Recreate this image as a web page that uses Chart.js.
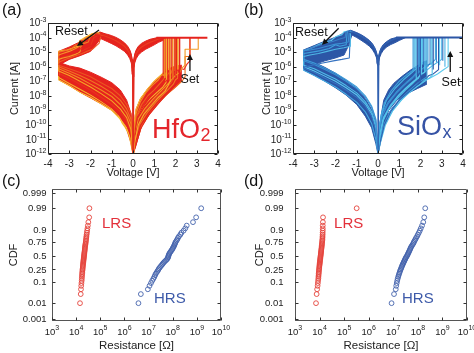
<!DOCTYPE html>
<html><head><meta charset="utf-8">
<script src="https://cdn.jsdelivr.net/npm/chart.js@4/dist/chart.umd.min.js"></script>
<style>
html,body{margin:0;padding:0;background:#fff;}
body{width:474px;height:353px;position:relative;overflow:hidden;}
canvas{position:absolute;}
</style></head><body>
<canvas id="ca" width="237" height="182" style="left:0;top:0;width:237px;height:182px"></canvas>
<canvas id="cb" width="237" height="182" style="left:237px;top:0;width:237px;height:182px"></canvas>
<canvas id="cc" width="237" height="185" style="left:0;top:168px;width:237px;height:185px"></canvas>
<canvas id="cd" width="237" height="185" style="left:237px;top:168px;width:237px;height:185px"></canvas>
<script>
// ===================== DATA =====================
// I-V panels: each curve is a list of [voltage (V), log10 |current (A)|]
const ivVoltTicks = [-4,-3,-2,-1,0,1,2,3,4];
const ivCurrentTickExps = [-12,-11,-10,-9,-8,-7,-6,-5,-4,-3];

// (a) HfO2 — dense bundles: [upper edge, lower edge]
const hfBandHrsNeg = [
 [[-3.5,-5.7],[-3.0,-5.95],[-2.5,-6.1],[-2.0,-6.38],[-1.5,-6.72],[-1.0,-7.1],[-0.6,-7.6],[-0.3,-8.3],[-0.1,-9.2],[-0.02,-10.2],[0,-12]],
 [[-3.5,-6.9],[-3.0,-7.3],[-2.5,-7.75],[-2.0,-8.15],[-1.5,-8.55],[-1.0,-9.0],[-0.6,-9.5],[-0.3,-10.3],[-0.1,-11.2],[0,-12]]
];
const hfBandReset = [
 [[-3.5,-4.95],[-3.0,-4.65],[-2.6,-4.37],[-2.2,-4.0],[-1.8,-3.72],[-1.55,-3.62],[-1.3,-3.75]],
 [[-3.5,-5.9],[-3.0,-5.5],[-2.5,-5.25],[-2.0,-4.95],[-1.7,-4.4],[-1.5,-3.95],[-1.3,-3.8]]
];
const hfBandHrsPos = [
 [[0,-12],[0.04,-10],[0.15,-8.9],[0.35,-8.2],[0.7,-7.5],[1.0,-7.0],[1.3,-6.6],[1.6,-6.2],[2.0,-5.95],[2.3,-5.9]],
 [[0,-12],[0.15,-11.3],[0.4,-10.1],[0.8,-9.2],[1.2,-8.5],[1.6,-7.9],[2.0,-7.4],[2.3,-7.0]]
];
const hfBandLrs = [
 [[-1.6,-3.68],[-1.4,-3.72],[-1.2,-3.78],[-1.0,-3.87],[-0.8,-3.99],[-0.6,-4.15],[-0.4,-4.36],[-0.25,-4.6],[-0.15,-4.85],[-0.08,-5.15],[-0.04,-5.5],[-0.015,-6.0],[0.015,-6.0],[0.04,-5.5],[0.08,-5.15],[0.15,-4.85],[0.25,-4.6],[0.4,-4.4],[0.6,-4.24],[0.8,-4.12],[1.1,-4.02],[1.6,-4.02]],
 [[-1.6,-4.02],[-1.4,-4.15],[-1.2,-4.28],[-1.0,-4.42],[-0.8,-4.57],[-0.6,-4.75],[-0.4,-4.95],[-0.25,-5.2],[-0.15,-5.45],[-0.08,-5.75],[-0.04,-6.1],[-0.015,-6.7],[0.015,-6.7],[0.04,-6.1],[0.08,-5.75],[0.15,-5.45],[0.25,-5.2],[0.4,-5.0],[0.6,-4.8],[0.8,-4.65],[1.0,-4.5],[1.2,-4.33],[1.4,-4.2],[1.6,-4.02]]
];
// (a) individual sweeps
const hfHrsPos = [
 [[0,-12],[0.05,-10.2],[0.15,-9.2],[0.35,-8.4],[0.6,-7.8],[0.9,-7.3],[1.2,-6.9],[1.35,-6.55],[1.45,-6.6],[1.45,-4.02]],
 [[0,-12],[0.06,-10.8],[0.2,-9.5],[0.45,-8.8],[0.8,-8.1],[1.1,-7.6],[1.4,-7.2],[1.5,-6.8],[1.6,-6.9],[1.6,-4.02]],
 [[0,-12],[0.08,-11.2],[0.25,-10],[0.5,-9.3],[0.9,-8.6],[1.2,-8.1],[1.5,-7.7],[1.65,-7.3],[1.75,-7.0],[1.75,-4.02]],
 [[0,-12],[0.05,-10.5],[0.2,-9.3],[0.4,-8.6],[0.7,-8.0],[1.0,-7.6],[1.3,-7.1],[1.6,-6.6],[1.7,-6.4],[1.78,-6.5],[1.85,-6.2],[1.85,-4.02]],
 [[0,-12],[0.1,-11],[0.3,-9.8],[0.6,-9.0],[1.0,-8.3],[1.3,-7.9],[1.6,-7.4],[1.8,-7.1],[1.9,-6.8],[2.0,-6.7],[2.0,-4.02]],
 [[0,-12],[0.04,-10],[0.15,-8.9],[0.35,-8.2],[0.7,-7.5],[1.0,-7.0],[1.3,-6.6],[1.5,-6.3],[1.6,-6.1],[1.68,-6.2],[1.68,-4.02]],
 [[0,-12],[0.12,-11.5],[0.35,-10.3],[0.7,-9.4],[1.1,-8.7],[1.5,-8.0],[1.8,-7.6],[2.0,-7.2],[2.1,-7.0],[2.2,-6.6],[2.2,-4.02]],
 [[0,-12],[0.07,-10.6],[0.25,-9.6],[0.55,-8.9],[0.9,-8.3],[1.3,-7.7],[1.7,-7.1],[2.0,-6.6],[2.2,-6.4],[2.3,-6.1],[2.45,-5.9],[2.45,-4.8],[3.07,-4.8],[3.07,-4.02]],
 [[0,-12],[0.06,-10.4],[0.2,-9.2],[0.5,-8.5],[0.9,-7.9],[1.3,-7.3],[1.7,-6.8],[2.0,-6.4],[2.2,-6.1],[2.4,-6.2],[2.55,-5.8],[2.68,-5.6],[2.68,-4.02]],
 [[0,-12],[0.1,-11],[0.3,-10.0],[0.7,-9.1],[1.1,-8.4],[1.5,-7.8],[1.9,-7.2],[2.0,-6.9],[2.1,-6.8],[2.1,-4.02]],
 [[0,-12],[0.05,-10.3],[0.2,-9.4],[0.5,-8.7],[0.8,-8.2],[1.1,-7.8],[1.4,-7.4],[1.55,-7.1],[1.55,-4.02]],
 [[0,-12],[0.08,-10.9],[0.3,-9.7],[0.6,-8.9],[1.0,-8.2],[1.4,-7.6],[1.7,-7.2],[1.85,-6.9],[1.95,-6.5],[2.05,-6.4],[2.05,-4.02]],
 [[0,-12],[0.15,-11.3],[0.4,-10.1],[0.8,-9.2],[1.2,-8.5],[1.6,-7.9],[2.0,-7.4],[2.3,-7.0],[2.45,-6.7],[2.45,-5.3],[2.68,-5.3],[2.68,-4.02]]
];
const hfSetJumps = [
 [[1.42,-6.5],[1.42,-4.02]],[[1.48,-6.8],[1.48,-4.02]],[[1.52,-6.4],[1.52,-4.02]],[[1.58,-6.9],[1.58,-4.02]],
 [[1.63,-6.3],[1.63,-4.02]],[[1.72,-6.6],[1.72,-4.02]],[[1.8,-6.2],[1.8,-4.02]],[[1.88,-6.9],[1.88,-4.02]],
 [[1.95,-6.3],[1.95,-4.02]],[[2.12,-6.2],[2.12,-4.02]],[[2.18,-6.6],[2.18,-4.02]]
];
const hfHrsNeg = [
 [[-3.5,-5.0],[-3.5,-6.0],[-3.0,-6.3],[-2.5,-6.6],[-2.0,-6.95],[-1.5,-7.35],[-1.0,-7.8],[-0.6,-8.3],[-0.3,-8.9],[-0.1,-9.6],[-0.03,-10.5],[0,-12]],
 [[-3.5,-5.35],[-3.5,-6.3],[-3.0,-6.6],[-2.5,-7.0],[-2.0,-7.4],[-1.5,-7.85],[-1.0,-8.35],[-0.6,-8.9],[-0.3,-9.5],[-0.1,-10.3],[0,-12]],
 [[-3.5,-5.5],[-3.5,-6.6],[-3.0,-7.0],[-2.5,-7.4],[-2.0,-7.85],[-1.5,-8.3],[-1.0,-8.8],[-0.6,-9.4],[-0.3,-10.0],[-0.1,-10.8],[0,-12]],
 [[-3.5,-5.7],[-3.5,-5.9],[-3.0,-6.15],[-2.5,-6.4],[-2.0,-6.7],[-1.5,-7.1],[-1.0,-7.5],[-0.6,-8.0],[-0.3,-8.6],[-0.1,-9.2],[-0.02,-10],[0,-12]],
 [[-3.5,-4.95],[-3.5,-6.9],[-3.0,-7.3],[-2.5,-7.75],[-2.0,-8.1],[-1.5,-8.55],[-1.0,-9.0],[-0.6,-9.6],[-0.3,-10.2],[-0.1,-11],[0,-12]],
 [[-3.5,-5.2],[-3.5,-6.15],[-3.0,-6.45],[-2.5,-6.8],[-2.0,-7.2],[-1.5,-7.6],[-1.0,-8.05],[-0.6,-8.6],[-0.3,-9.2],[-0.1,-9.9],[0,-12]],
 [[-3.5,-5.45],[-3.5,-6.45],[-3.0,-6.8],[-2.5,-7.2],[-2.0,-7.6],[-1.5,-8.1],[-1.0,-8.6],[-0.6,-9.1],[-0.3,-9.7],[-0.1,-10.5],[0,-12]],
 [[-3.5,-5.9],[-3.5,-6.75],[-3.0,-7.15],[-2.5,-7.55],[-2.0,-7.95],[-1.5,-8.4],[-1.0,-8.9],[-0.7,-9.3],[-0.5,-9.9],[-0.4,-10.1],[-0.2,-10.6],[0,-12]]
];
const hfReset = [
 [[-1.55,-3.7],[-1.8,-3.75],[-2.0,-3.9],[-2.1,-4.3],[-2.3,-4.4],[-2.5,-4.6],[-2.7,-4.5],[-2.9,-4.8],[-3.2,-4.9],[-3.5,-5.0]],
 [[-1.4,-3.75],[-1.6,-3.8],[-1.75,-4.2],[-1.9,-4.5],[-2.2,-4.7],[-2.4,-4.65],[-2.6,-5.0],[-2.9,-5.1],[-3.2,-5.2],[-3.5,-5.35]],
 [[-1.5,-3.72],[-1.7,-3.72],[-1.9,-3.85],[-2.2,-4.1],[-2.4,-4.35],[-2.5,-5.0],[-2.7,-5.15],[-3.0,-5.3],[-3.3,-5.4],[-3.5,-5.5]],
 [[-1.3,-3.8],[-1.5,-3.85],[-1.6,-4.4],[-1.9,-4.8],[-2.1,-4.9],[-2.4,-5.1],[-2.8,-5.3],[-3.1,-5.45],[-3.5,-5.7]],
 [[-1.6,-3.65],[-1.9,-3.72],[-2.2,-3.95],[-2.5,-4.2],[-2.6,-4.6],[-2.8,-4.7],[-3.1,-4.85],[-3.4,-4.9],[-3.5,-4.95]],
 [[-1.45,-3.75],[-1.7,-3.9],[-1.85,-4.0],[-2.0,-4.6],[-2.3,-4.85],[-2.6,-5.05],[-2.9,-5.2],[-3.2,-5.3],[-3.5,-5.45]],
 [[-1.7,-3.68],[-2.0,-3.8],[-2.3,-4.05],[-2.4,-4.5],[-2.7,-4.75],[-3.0,-4.95],[-3.3,-5.1],[-3.5,-5.2]],
 [[-1.35,-3.78],[-1.55,-4.1],[-1.8,-4.55],[-2.1,-4.95],[-2.5,-5.2],[-2.9,-5.4],[-3.2,-5.6],[-3.5,-5.85]]
];
const hfLrs = [
 [[1.2,-4.02],[1.0,-4.1],[0.8,-4.2],[0.6,-4.33],[0.4,-4.5],[0.25,-4.7],[0.15,-4.95],[0.08,-5.25],[0.04,-5.6],[0.015,-6.1],[0,-12],[-0.015,-6.1],[-0.04,-5.6],[-0.08,-5.25],[-0.15,-4.95],[-0.25,-4.7],[-0.4,-4.45],[-0.6,-4.25],[-0.8,-4.08],[-1.0,-3.95],[-1.2,-3.85],[-1.4,-3.78],[-1.55,-3.72]],
 [[1.35,-4.02],[1.2,-4.1],[1.0,-4.22],[0.8,-4.33],[0.6,-4.47],[0.4,-4.65],[0.25,-4.86],[0.15,-5.1],[0.08,-5.4],[0.04,-5.75],[0.015,-6.3],[-0.015,-6.3],[-0.04,-5.75],[-0.08,-5.4],[-0.15,-5.1],[-0.25,-4.85],[-0.4,-4.6],[-0.6,-4.4],[-0.8,-4.22],[-1.0,-4.08],[-1.2,-3.96],[-1.4,-3.86],[-1.6,-3.78],[-1.75,-3.72]],
 [[1.5,-4.02],[1.3,-4.15],[1.0,-4.35],[0.8,-4.48],[0.6,-4.62],[0.4,-4.8],[0.25,-5.02],[0.15,-5.25],[0.08,-5.55],[0.04,-5.9],[0.015,-6.5],[0,-12],[-0.015,-6.5],[-0.04,-5.9],[-0.08,-5.55],[-0.15,-5.25],[-0.25,-5.0],[-0.4,-4.75],[-0.6,-4.55],[-0.8,-4.37],[-1.0,-4.22],[-1.2,-4.08],[-1.4,-3.96],[-1.6,-3.86],[-1.8,-3.78]]
];
const hfCompliance = [[[1.1,-4.02],[3.5,-4.02]]];

// (b) SiOx — dense bundles: [upper edge, lower edge]
const siBandHrsNeg = [
 [[-3.5,-5.3],[-3.0,-5.7],[-2.5,-6.05],[-2.0,-6.45],[-1.5,-6.95],[-1.0,-7.5],[-0.6,-8.2],[-0.3,-8.95],[-0.1,-9.9],[0,-12]],
 [[-3.5,-6.23],[-3.0,-6.6],[-2.5,-7.0],[-2.0,-7.45],[-1.5,-7.95],[-1.0,-8.6],[-0.6,-9.4],[-0.3,-10.2],[-0.1,-11.3],[0,-12]]
];
const siBandReset = [
 [[-3.5,-4.85],[-3.0,-4.55],[-2.56,-4.28],[-1.93,-3.94],[-1.5,-3.6],[-1.3,-3.5],[-1.2,-3.55]],
 [[-3.5,-6.1],[-3.0,-5.85],[-2.5,-5.6],[-2.0,-5.4],[-1.6,-5.2],[-1.4,-4.6],[-1.2,-3.7]]
];
const siBandHrsPos = [
 [[0,-12],[0.05,-10.2],[0.27,-8.3],[0.5,-7.6],[0.74,-7.15],[1.1,-6.7],[1.53,-6.23],[1.9,-5.9],[2.16,-5.66],[2.3,-5.6]],
 [[0,-12],[0.1,-11.3],[0.27,-10.1],[0.5,-9.0],[0.89,-8.3],[1.3,-7.9],[1.86,-7.5],[2.3,-7.2]]
];
const siBandLrs = [
 [[-1.25,-3.52],[-1.2,-3.55],[-1.0,-3.66],[-0.8,-3.8],[-0.6,-3.98],[-0.4,-4.2],[-0.25,-4.45],[-0.15,-4.7],[-0.08,-4.95],[-0.04,-5.2],[-0.015,-5.6],[0.015,-5.6],[0.04,-5.2],[0.08,-4.95],[0.15,-4.7],[0.25,-4.48],[0.4,-4.28],[0.6,-4.1],[0.85,-4.0],[1.3,-4.0]],
 [[-1.25,-3.8],[-1.0,-4.0],[-0.8,-4.18],[-0.6,-4.38],[-0.4,-4.6],[-0.25,-4.85],[-0.15,-5.1],[-0.08,-5.35],[-0.04,-5.55],[-0.015,-5.9],[0.015,-5.9],[0.04,-5.55],[0.08,-5.35],[0.15,-5.1],[0.25,-4.87],[0.4,-4.65],[0.6,-4.48],[0.8,-4.35],[1.0,-4.2],[1.3,-4.0]]
];
// (b) individual sweeps
const siHrsPos = [
 [[0,-12],[0.05,-10.3],[0.15,-9.3],[0.3,-8.5],[0.6,-7.7],[1.0,-7.0],[1.4,-6.5],[1.7,-6.2],[1.7,-4.0]],
 [[0,-12],[0.08,-10.9],[0.25,-9.7],[0.5,-8.9],[0.9,-8.2],[1.3,-7.6],[1.6,-7.2],[1.8,-6.9],[1.8,-4.0]],
 [[0,-12],[0.06,-10.5],[0.2,-9.4],[0.45,-8.6],[0.8,-7.9],[1.2,-7.3],[1.6,-6.8],[1.75,-6.5],[1.9,-6.4],[1.9,-4.0]],
 [[0,-12],[0.1,-11.2],[0.3,-10.0],[0.6,-9.1],[1.0,-8.3],[1.4,-7.8],[1.8,-7.3],[2.0,-7.0],[2.0,-4.0]],
 [[0,-12],[0.05,-10.2],[0.2,-9.1],[0.4,-8.3],[0.8,-7.5],[1.2,-6.9],[1.6,-6.4],[1.9,-6.0],[2.1,-5.8],[2.1,-4.0]],
 [[0,-12],[0.07,-10.7],[0.25,-9.6],[0.55,-8.8],[0.9,-8.1],[1.3,-7.5],[1.7,-7.0],[1.9,-6.8],[2.0,-6.5],[2.2,-6.4],[2.2,-4.0]],
 [[0,-12],[0.09,-11],[0.3,-9.9],[0.6,-9.0],[1.0,-8.3],[1.5,-7.6],[1.9,-7.1],[2.1,-6.9],[2.3,-6.7],[2.3,-4.0]],
 [[0,-12],[0.06,-10.4],[0.2,-9.3],[0.5,-8.5],[0.9,-7.8],[1.3,-7.2],[1.8,-6.6],[2.0,-6.3],[2.2,-6.1],[2.45,-5.8],[2.45,-4.0]],
 [[0,-12],[0.1,-11.3],[0.35,-10.0],[0.7,-9.0],[1.1,-8.3],[1.6,-7.6],[2.0,-7.2],[2.2,-6.9],[2.4,-6.8],[2.55,-6.6],[2.55,-4.0]],
 [[0,-12],[0.05,-10.3],[0.2,-9.2],[0.5,-8.4],[0.9,-7.7],[1.4,-7.0],[1.9,-6.4],[2.3,-5.9],[2.5,-5.8],[2.7,-5.5],[2.7,-4.0]],
 [[0,-12],[0.08,-10.8],[0.3,-9.7],[0.7,-8.8],[1.2,-8.0],[1.7,-7.4],[2.2,-6.9],[2.4,-6.6],[2.6,-6.5],[2.85,-6.2],[2.85,-4.0]],
 [[0,-12],[0.07,-10.6],[0.25,-9.5],[0.6,-8.6],[1.0,-7.9],[1.5,-7.2],[2.0,-6.6],[2.5,-6.0],[2.8,-5.7],[3.0,-5.5],[3.0,-4.0]],
 [[0,-12],[0.1,-11.2],[0.3,-10.0],[0.7,-9.0],[1.2,-8.1],[1.8,-7.4],[2.3,-6.9],[2.8,-6.5],[3.1,-6.2],[3.3,-6.0],[3.3,-4.0]]
];
const siSetJumps = [
 [[1.65,-6.3],[1.65,-4.0]],[[1.75,-6.1],[1.75,-4.0]],[[1.85,-6.6],[1.85,-4.0]],[[1.95,-6.0],[1.95,-4.0]],
 [[2.05,-6.5],[2.05,-4.0]],[[2.15,-5.9],[2.15,-4.0]],[[2.25,-6.3],[2.25,-4.0]],[[2.35,-6.0],[2.35,-4.0]],
 [[2.5,-5.9],[2.5,-4.0]],[[2.6,-6.2],[2.6,-4.0]],[[2.75,-5.7],[2.75,-4.0]],[[2.9,-5.9],[2.9,-4.0]],
 [[3.05,-5.6],[3.05,-4.0]],[[3.15,-6.0],[3.15,-4.0]]
];
const siHrsNeg = [
 [[-3.5,-4.9],[-3.5,-5.6],[-3.0,-5.85],[-2.5,-6.2],[-2.0,-6.55],[-1.5,-7.0],[-1.0,-7.5],[-0.6,-8.1],[-0.3,-8.8],[-0.1,-9.7],[0,-12]],
 [[-3.5,-5.3],[-3.5,-5.9],[-3.0,-6.15],[-2.5,-6.5],[-2.0,-6.85],[-1.5,-7.3],[-1.0,-7.8],[-0.6,-8.4],[-0.3,-9.1],[-0.1,-10.0],[0,-12]],
 [[-3.5,-4.85],[-3.5,-6.1],[-3.0,-6.4],[-2.5,-6.8],[-2.0,-7.15],[-1.5,-7.6],[-1.0,-8.1],[-0.6,-8.7],[-0.3,-9.4],[-0.1,-10.4],[0,-12]],
 [[-3.5,-5.6],[-3.5,-6.25],[-3.0,-6.6],[-2.5,-7.0],[-2.0,-7.4],[-1.5,-7.9],[-1.0,-8.45],[-0.6,-9.1],[-0.3,-9.9],[-0.1,-11],[0,-12]],
 [[-3.5,-5.1],[-3.5,-6.0],[-3.0,-6.3],[-2.5,-6.65],[-2.0,-7.0],[-1.5,-7.45],[-1.0,-7.95],[-0.6,-8.55],[-0.3,-9.25],[-0.1,-10.2],[0,-12]],
 [[-3.5,-5.05],[-3.5,-5.5],[-3.0,-5.75],[-2.5,-6.1],[-2.0,-6.45],[-1.5,-6.9],[-1.0,-7.4],[-0.6,-8.0],[-0.3,-8.7],[-0.1,-9.6],[0,-12]]
];
const siReset = [
 [[-1.25,-3.55],[-1.35,-3.6],[-1.4,-4.3],[-1.7,-4.4],[-2.0,-4.45],[-2.4,-4.6],[-2.8,-4.75],[-3.2,-4.85],[-3.5,-4.9]],
 [[-1.2,-3.6],[-1.3,-3.62],[-1.3,-4.6],[-1.6,-4.7],[-2.0,-4.8],[-2.4,-4.95],[-2.8,-5.1],[-3.2,-5.2],[-3.5,-5.3]],
 [[-1.3,-3.55],[-1.5,-3.58],[-1.55,-4.0],[-1.8,-4.1],[-2.1,-4.25],[-2.5,-4.4],[-2.9,-4.6],[-3.2,-4.75],[-3.5,-4.85]],
 [[-1.4,-3.55],[-1.6,-3.6],[-1.7,-3.8],[-2.0,-3.95],[-2.2,-4.2],[-2.5,-4.3],[-2.8,-4.5],[-3.1,-4.7],[-3.5,-4.9]],
 [[-1.25,-3.58],[-1.45,-3.6],[-1.5,-4.5],[-1.8,-4.6],[-2.0,-4.5],[-2.3,-4.75],[-2.7,-4.9],[-3.1,-5.0],[-3.5,-5.1]],
 [[-1.3,-3.58],[-1.35,-5.4],[-1.7,-5.5],[-2.1,-5.6],[-2.6,-5.75],[-3.1,-5.9],[-3.5,-6.05]]
];
const siLrs = [
 [[1.0,-4.0],[0.8,-4.08],[0.6,-4.2],[0.4,-4.38],[0.25,-4.58],[0.15,-4.8],[0.08,-5.05],[0.04,-5.3],[0.015,-5.7],[0,-12],[-0.015,-5.7],[-0.04,-5.3],[-0.08,-5.05],[-0.15,-4.8],[-0.25,-4.55],[-0.4,-4.3],[-0.6,-4.08],[-0.8,-3.9],[-1.0,-3.75],[-1.2,-3.62],[-1.25,-3.58]],
 [[1.15,-4.0],[1.0,-4.1],[0.8,-4.2],[0.6,-4.33],[0.4,-4.5],[0.25,-4.72],[0.15,-4.95],[0.08,-5.2],[0.04,-5.45],[0.015,-5.8],[-0.015,-5.8],[-0.04,-5.45],[-0.08,-5.2],[-0.15,-4.95],[-0.25,-4.7],[-0.4,-4.45],[-0.6,-4.22],[-0.8,-4.03],[-1.0,-3.87],[-1.2,-3.72],[-1.4,-3.6]]
];
const siCompliance = [[[0.85,-4.0],[4.0,-4.0]]];

// CDF panels
const resistanceTickExps = [3,4,5,6,7,8,9,10];
const cdfTickProbs = [0.001,0.01,0.1,0.25,0.5,0.75,0.9,0.99,0.999];
const cdfTickText = ['0.001','0.01','0.1','0.25','0.5','0.75','0.9','0.99','0.999'];
const cdfLevels = [0.01,0.03,0.05,0.07,0.09,0.11,0.13,0.15,0.17,0.19,0.21,0.23,0.25,0.27,0.29,0.31,0.33,0.35,0.37,0.39,0.41,0.43,0.45,0.47,0.49,0.51,0.53,0.55,0.57,0.59,0.61,0.63,0.65,0.67,0.69,0.71,0.73,0.75,0.77,0.79,0.81,0.83,0.85,0.87,0.89,0.91,0.93,0.95,0.97,0.99];
// log10 of resistance (ohm), sorted, one per CDF level
const hfLrsLogR = [4.16,4.19,4.20,4.21,4.22,4.23,4.235,4.24,4.245,4.25,4.255,4.26,4.265,4.27,4.275,4.28,4.285,4.29,4.295,4.30,4.305,4.31,4.315,4.32,4.325,4.33,4.335,4.34,4.345,4.35,4.355,4.36,4.365,4.37,4.375,4.385,4.39,4.40,4.405,4.41,4.42,4.425,4.435,4.445,4.455,4.47,4.485,4.505,4.54,4.55];
const hfHrsLogR = [6.58,6.68,6.97,7.04,7.10,7.15,7.20,7.24,7.27,7.30,7.34,7.38,7.41,7.44,7.48,7.52,7.56,7.59,7.63,7.67,7.72,7.76,7.79,7.81,7.82,7.83,7.85,7.87,7.90,7.93,7.96,7.99,8.01,8.04,8.06,8.08,8.10,8.12,8.16,8.19,8.22,8.26,8.32,8.36,8.45,8.52,8.58,8.84,8.97,9.18];
const siLrsLogR = [3.855,3.88,3.90,3.92,3.93,3.94,3.95,3.955,3.96,3.965,3.97,3.975,3.98,3.985,3.99,3.995,4.00,4.005,4.01,4.015,4.02,4.025,4.03,4.035,4.04,4.045,4.05,4.055,4.06,4.065,4.07,4.075,4.08,4.085,4.09,4.095,4.10,4.105,4.11,4.115,4.12,4.12,4.125,4.125,4.13,4.13,4.13,4.135,4.14,5.51];
const siHrsLogR = [6.93,7.03,7.10,7.12,7.14,7.16,7.18,7.20,7.22,7.24,7.26,7.28,7.30,7.32,7.34,7.36,7.38,7.40,7.42,7.44,7.46,7.48,7.50,7.52,7.55,7.57,7.59,7.61,7.63,7.65,7.67,7.69,7.71,7.73,7.76,7.79,7.82,7.84,7.87,7.90,7.93,7.97,8.00,8.04,8.08,8.12,8.17,8.22,8.26,8.30];

// ===================== RENDERING =====================
const FONT = '"Liberation Sans", Arial, Helvetica, sans-serif';
Chart.defaults.font.family = FONT;
Chart.defaults.color = '#222';

function probit(p){
 const a=[-3.969683028665376e+01,2.209460984245205e+02,-2.759285104469687e+02,1.383577518672690e+02,-3.066479806614716e+01,2.506628277459239e+00];
 const b=[-5.447609879822406e+01,1.615858368580409e+02,-1.556989798598866e+02,6.680131188771972e+01,-1.328068155288572e+01];
 const c=[-7.784894002430293e-03,-3.223964580411365e-01,-2.400758277161838e+00,-2.549732539343734e+00,4.374664141464968e+00,2.938163982698783e+00];
 const d=[7.784695709041462e-03,3.224671290700398e-01,2.445134137142996e+00,3.754408661907416e+00];
 const pl=0.02425, ph=1-pl; let q,r;
 if(p<pl){q=Math.sqrt(-2*Math.log(p));return (((((c[0]*q+c[1])*q+c[2])*q+c[3])*q+c[4])*q+c[5])/((((d[0]*q+d[1])*q+d[2])*q+d[3])*q+1);}
 if(p<=ph){q=p-0.5;r=q*q;return (((((a[0]*r+a[1])*r+a[2])*r+a[3])*r+a[4])*r+a[5])*q/(((((b[0]*r+b[1])*r+b[2])*r+b[3])*r+b[4])*r+1);}
 q=Math.sqrt(-2*Math.log(1-p));return -(((((c[0]*q+c[1])*q+c[2])*q+c[3])*q+c[4])*q+c[5])/((((d[0]*q+d[1])*q+d[2])*q+d[3])*q+1);
}

const toXY = c => c.map(([v,e])=>({x:v,y:Math.pow(10,e)}));
function lineSets(curves,colors,width){
  return curves.map((c,i)=>({data:toXY(c),showLine:true,borderColor:colors[i%colors.length],
    borderWidth:width,pointRadius:0,fill:false,tension:0,borderJoinStyle:'round'}));
}
function bandSets(band,color){
  return [
    {data:toXY(band[0]),showLine:true,borderColor:color,borderWidth:1,pointRadius:0,fill:false,tension:0},
    {data:toXY(band[1]),showLine:true,borderColor:color,borderWidth:1,pointRadius:0,fill:'-1',backgroundColor:color,tension:0}
  ];
}
function cdfDataset(logR,color){
  return {data:logR.map((r,i)=>({x:Math.pow(10,r),y:probit(cdfLevels[i])})),
    showLine:false,pointRadius:2.4,pointBorderWidth:0.9,borderColor:color,
    pointBorderColor:color,pointBackgroundColor:'rgba(0,0,0,0)',backgroundColor:'rgba(0,0,0,0)'};
}

function drawLabel(ctx,lab,x,y,align,fs,es,raise){
  ctx.textBaseline='middle';
  if(typeof lab==='string'){ctx.font=fs+'px '+FONT;ctx.textAlign=align;ctx.fillText(lab,x,y);return;}
  ctx.font=fs+'px '+FONT;const wb=ctx.measureText(lab.b).width;
  ctx.font=es+'px '+FONT;const we=ctx.measureText(lab.e).width;
  const x0=align==='center'?x-(wb+we)/2:align==='right'?x-wb-we:x;
  ctx.textAlign='left';
  ctx.font=fs+'px '+FONT;ctx.fillText(lab.b,x0,y);
  ctx.font=es+'px '+FONT;ctx.fillText(lab.e,x0+wb,y-raise);
}

function framePlugin(cfg){
  return {id:'frame',afterDatasetsDraw(chart){
    const {ctx,chartArea:a}=chart;const xs=chart.scales.x, ys=chart.scales.y;
    const L=Math.round(a.left)+0.5,R=Math.round(a.right)-0.5,T=Math.round(a.top)+0.5,B=Math.round(a.bottom)-0.5;
    ctx.save();
    ctx.strokeStyle=cfg.frameColor;ctx.lineWidth=1;
    ctx.beginPath();ctx.rect(L,T,R-L,B-T);ctx.stroke();
    ctx.strokeStyle=cfg.tickColor;ctx.beginPath();
    const tl=cfg.tickLen;
    xs.ticks.forEach(t=>{const p=Math.round(xs.getPixelForValue(t.value))+0.5;ctx.moveTo(p,B);ctx.lineTo(p,B-tl);ctx.moveTo(p,T);ctx.lineTo(p,T+tl);});
    ys.ticks.forEach(t=>{const p=Math.round(ys.getPixelForValue(t.value))+0.5;ctx.moveTo(L,p);ctx.lineTo(L+tl,p);ctx.moveTo(R,p);ctx.lineTo(R-tl,p);});
    ctx.stroke();
    ctx.fillStyle='#222';
    xs.ticks.forEach((t,i)=>drawLabel(ctx,cfg.xLabel(t.value,i),xs.getPixelForValue(t.value),a.bottom+cfg.xLabDy,'center',cfg.xFs,cfg.expFs,cfg.raise));
    ys.ticks.forEach((t,i)=>drawLabel(ctx,cfg.yLabel(t.value,i),a.left-cfg.yGap,ys.getPixelForValue(t.value)+0.5,'right',cfg.yFs,cfg.expFs,cfg.raise));
    const px=(p)=>[xs.getPixelForValue(cfg.toX(p[0])),ys.getPixelForValue(cfg.toY(p[1]))];
    (cfg.notes||[]).forEach(n=>{
      if(n.kind==='text'){
        const [x,y]=px(n.at);
        ctx.fillStyle=n.color;ctx.textBaseline='alphabetic';ctx.textAlign=n.align||'left';
        ctx.font=n.size+'px '+FONT;ctx.fillText(n.text,x,y);
        if(n.sub){const w=ctx.measureText(n.text).width;ctx.textAlign='left';ctx.font=n.subSize+'px '+FONT;ctx.fillText(n.sub,x+w+0.5,y+n.subDy);}
      } else if(n.kind==='arrow'){
        const [x1,y1]=px(n.from),[x2,y2]=px(n.to);
        const ang=Math.atan2(y2-y1,x2-x1),hl=6,hw=3;
        ctx.strokeStyle='#111';ctx.fillStyle='#111';ctx.lineWidth=1.3;
        ctx.beginPath();ctx.moveTo(x1,y1);ctx.lineTo(x2-Math.cos(ang)*hl*0.8,y2-Math.sin(ang)*hl*0.8);ctx.stroke();
        ctx.beginPath();ctx.moveTo(x2,y2);
        ctx.lineTo(x2-Math.cos(ang)*hl+Math.sin(ang)*hw,y2-Math.sin(ang)*hl-Math.cos(ang)*hw);
        ctx.lineTo(x2-Math.cos(ang)*hl-Math.sin(ang)*hw,y2-Math.sin(ang)*hl+Math.cos(ang)*hw);
        ctx.closePath();ctx.fill();
      }
    });
    ctx.fillStyle='#111';ctx.textAlign='left';ctx.textBaseline='alphabetic';ctx.font='16px '+FONT;
    ctx.fillText(cfg.panel,cfg.panelX,cfg.panelY);
    ctx.restore();
  }};
}

function makeChart(id,cfg){
  const el=document.getElementById(id);
  const W=el.width,H=el.height;
  const left=cfg.area.l-cfg.cx,top=cfg.area.t-cfg.cy,right=cfg.area.r-cfg.cx,bottom=cfg.area.b-cfg.cy;
  return new Chart(el,{
    type:'scatter',
    data:{datasets:cfg.datasets},
    options:{
      responsive:false,animation:false,devicePixelRatio:1,
      layout:{padding:{left:0,top:top,right:W-right,bottom:0}},
      plugins:{legend:{display:false},tooltip:{enabled:false},filler:{propagate:false}},
      scales:{
        x:{type:cfg.xType,min:cfg.xMin,max:cfg.xMax,position:'bottom',
          grid:{display:false},border:{display:false},ticks:{display:false},
          title:{display:true,text:cfg.xTitle,color:'#222',font:{size:cfg.xTitleFs,family:FONT},padding:{top:0,bottom:cfg.xTitlePad}},
          afterBuildTicks:s=>{s.ticks=cfg.xTicks.map(v=>({value:v}));},
          afterFit:s=>{s.height=H-bottom;}},
        y:{type:cfg.yType,min:cfg.yMin,max:cfg.yMax,position:'left',
          grid:{display:false},border:{display:false},ticks:{display:false},
          title:{display:true,text:cfg.yTitle,color:'#222',font:{size:cfg.yTitleFs,family:FONT},padding:{top:cfg.yTitlePad,bottom:0}},
          afterBuildTicks:s=>{s.ticks=cfg.yTicks.map(v=>({value:v}));},
          afterFit:s=>{s.width=left;}}
      }
    },
    plugins:[framePlugin(cfg)]
  });
}

const powLabel=v=>({b:'10',e:String(Math.round(Math.log10(v)))});
const ivCommon={
  xType:'linear',xMin:-4,xMax:4,yType:'logarithmic',yMin:1e-12,yMax:1e-3,
  xTicks:ivVoltTicks,yTicks:ivCurrentTickExps.map(e=>Math.pow(10,e)),
  xTitle:'Voltage [V]',yTitle:'Current [A]',xTitleFs:11,yTitleFs:11,xTitlePad:2.4,
  frameColor:'#222',tickColor:'#222',tickLen:3,
  xLabel:v=>String(v),yLabel:powLabel,xLabDy:10,xFs:10,yFs:10,expFs:7,raise:3.5,yGap:1.5,
  toX:v=>v,toY:e=>Math.pow(10,e)
};
// dataset index 0 is drawn last (on top); bands go at the end so they sit underneath
const HF_RED='#e5231e', SI_BLUE='#2c56a6';
makeChart('ca',Object.assign({},ivCommon,{
  cx:0,cy:0,area:{l:48,t:23,r:218,b:154},yTitlePad:8.4,panel:'(a)',panelX:2,panelY:15,
  datasets:[].concat(
    lineSets(hfCompliance,[HF_RED],2),
    lineSets(hfLrs,['#e22a1f','#ea3c22','#e5231e'],1.2),
    lineSets(hfReset,['#f07a24','#e5231e','#f4a02a','#ed5a23','#f8b52c','#e8361f','#f5922a','#e5231e'],1.1),
    lineSets(hfSetJumps,['#e5231e','#f28b22','#ec4a22','#f6b12a','#e5231e','#ef6420'],1.1),
    lineSets(hfHrsPos,['#f28b22','#e5231e','#f6b12a','#ef6420','#e94a22','#f7c033','#e5231e','#f39a23','#ea2f20','#ee7a24','#f8b52c','#e5231e','#f07223'],1.1),
    lineSets(hfHrsNeg,['#f07223','#f5a524','#e5231e','#ec5322','#f8c335','#f28b22','#e8331f','#f6b12a'],1.1),
    bandSets(hfBandLrs,HF_RED),bandSets(hfBandReset,HF_RED),bandSets(hfBandHrsPos,HF_RED),bandSets(hfBandHrsNeg,HF_RED)
  ),
  notes:[
    {kind:'text',at:[-3.67,-3.845],text:'Reset',size:12.5,color:'#111'},
    {kind:'arrow',from:[-1.6,-3.48],to:[-2.635,-4.58]},
    {kind:'text',at:[2.68,-7.12],text:'Set',size:12.5,color:'#111',align:'center'},
    {kind:'arrow',from:[2.68,-6.3],to:[2.68,-5.13]},
    {kind:'text',at:[0.894,-10.87],text:'HfO',sub:'2',size:27,subSize:18,subDy:3,color:'#e4252b'}
  ]
}));
makeChart('cb',Object.assign({},ivCommon,{
  cx:237,cy:0,area:{l:293,t:23,r:463,b:154},yTitlePad:23.4,panel:'(b)',panelX:7,panelY:15,
  datasets:[].concat(
    lineSets(siCompliance,[SI_BLUE],2),
    lineSets(siLrs,['#3060b0','#2a52a0'],1.2),
    lineSets(siReset,['#3b8fd2','#4fb8e6','#3a80c8','#5cc6ee','#3fa0dc','#3572c0'],1.1),
    lineSets(siSetJumps,['#3fa3dd','#54c3ea','#2c56a6','#3a8fd2','#5ccbef','#3270bd','#4bb5e6'],1.1),
    lineSets(siHrsPos,['#3fa3dd','#54c3ea','#3a8fd2','#2f62b3','#4bb5e6','#5ccbef','#3d9bd8','#3270bd','#54c3ea','#3fa3dd','#2c56a6','#4bb5e6','#5ccbef'],1.1),
    lineSets(siHrsNeg,['#3a8fd2','#4fbbe8','#3572c0','#46a9e0','#5cc6ee','#3d9bd8'],1.1),
    bandSets(siBandLrs,SI_BLUE),bandSets(siBandReset,SI_BLUE),bandSets(siBandHrsPos,SI_BLUE),bandSets(siBandHrsNeg,SI_BLUE)
  ),
  notes:[
    {kind:'text',at:[-3.906,-3.86],text:'Reset',size:12.5,color:'#111'},
    {kind:'arrow',from:[-1.85,-3.36],to:[-2.635,-4.51]},
    {kind:'text',at:[3.435,-7.33],text:'Set',size:12.5,color:'#111',align:'center'},
    {kind:'arrow',from:[3.40,-6.37],to:[3.40,-4.92]},
    {kind:'text',at:[0.894,-10.69],text:'SiO',sub:'x',size:27,subSize:18,subDy:3,color:'#3653a5'}
  ]
}));
const cdfCommon={
  xType:'logarithmic',xMin:1e3,xMax:1e10,yType:'linear',yMin:-3.2,yMax:3.27,
  xTicks:resistanceTickExps.map(e=>Math.pow(10,e)),yTicks:cdfTickProbs.map(probit),
  xTitle:'Resistance [\u03A9]',yTitle:'CDF',xTitleFs:11.5,yTitleFs:11,xTitlePad:0,
  frameColor:'#555',tickColor:'#333',tickLen:3,
  xLabel:powLabel,yLabel:(v,i)=>cdfTickText[i],xLabDy:11.5,xFs:9.5,yFs:9.5,expFs:7,raise:4,
  toX:r=>Math.pow(10,r),toY:z=>z
};
makeChart('cc',Object.assign({},cdfCommon,{
  cx:0,cy:168,area:{l:52,t:189,r:221,b:321},yTitlePad:7.4,yGap:5.5,panel:'(c)',panelX:2,panelY:17.6,
  datasets:[cdfDataset(hfLrsLogR,'#e5443c'),cdfDataset(hfHrsLogR,'#4463ad')],
  notes:[
    {kind:'text',at:[5.07,1.35],text:'LRS',size:15,color:'#e3303a'},
    {kind:'text',at:[7.225,-2.32],text:'HRS',size:15,color:'#3d5aa9'}
  ]
}));
makeChart('cd',Object.assign({},cdfCommon,{
  cx:237,cy:168,area:{l:295,t:189,r:467,b:321},yTitlePad:16,yGap:11.5,panel:'(d)',panelX:7,panelY:17.6,
  datasets:[cdfDataset(siLrsLogR,'#e5443c'),cdfDataset(siHrsLogR,'#4463ad')],
  notes:[
    {kind:'text',at:[4.59,1.35],text:'LRS',size:15,color:'#e3303a'},
    {kind:'text',at:[7.355,-2.32],text:'HRS',size:15,color:'#3d5aa9'}
  ]
}));
</script>
</body></html>
